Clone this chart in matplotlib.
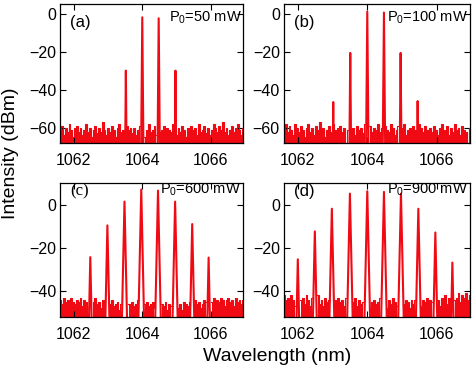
import numpy as np
import matplotlib
matplotlib.use('Agg')
import matplotlib.pyplot as plt

plt.rcParams['font.family'] = ['Liberation Sans', 'DejaVu Sans']
plt.rcParams['mathtext.fontset'] = 'custom'
plt.rcParams['mathtext.rm'] = 'Liberation Sans'
plt.rcParams['mathtext.it'] = 'Liberation Sans:italic'

RED = '#f00a14'
XMIN, XMAX = 1061.6, 1066.95

# peak positions (nm) and peak levels (dBm)
a_peak_wl = [1063.52, 1064.00, 1064.48, 1064.97]
a_peak_db = [-30, -2, -2.5, -30]
b_peak_wl = [1063.02, 1063.51, 1064.00, 1064.48, 1064.96, 1065.45]
b_peak_db = [-46.5, -20.7, 1.0, 0.5, -20.7, -46]
c_peak_wl = [1062.48, 1062.98, 1063.48, 1063.97, 1064.46, 1064.96, 1065.46, 1065.94]
c_peak_db = [-24.3, -9.6, 1.4, 7.0, 6.5, 1.4, -9.0, -24.5]
d_peak_wl = [1062.00, 1062.49, 1062.98, 1063.50, 1064.00, 1064.48, 1064.97,
             1065.47, 1065.96, 1066.45]
d_peak_db = [-25.3, -12.4, -1.9, 5.1, 6.2, 5.9, 5.1, -1.9, -12.9, -26.8]

# noise floor tops (dBm), sampled evenly across the window
a_noise = [-61, -59, -64, -60, -62, -58, -61, -65, -60, -59,
           -62, -60, -64, -61, -58, -62, -60, -65, -61, -59,
           -63, -60, -62, -57, -61, -64, -60, -62, -59, -61,
           -65, -60, -58, -62, -61, -64, -59, -61, -60, -63,
           -60, -64, -61, -59, -62, -60, -65, -61, -58, -62,
           -61, -59, -64, -60, -62, -61, -59, -64, -60, -61,
           -62, -58, -61, -64, -60, -62, -59, -61, -65, -60,
           -62, -59, -61, -60, -64, -58, -62, -61, -59, -63,
           -60, -64, -61, -58, -60, -62, -59, -61, -57, -62,
           -60, -64, -61, -59, -62, -60, -58, -61, -64, -60]
b_noise = [-60, -58, -62, -59, -61, -64, -58, -60, -62, -59,
           -61, -65, -60, -58, -62, -60, -64, -59, -61, -57,
           -62, -60, -65, -61, -59, -62, -58, -61, -64, -60,
           -59, -62, -60, -68, -61, -58, -62, -60, -64, -59,
           -61, -60, -63, -58, -61, -64, -59, -62, -60, -61,
           -58, -62, -60, -64, -59, -61, -62, -58, -60, -64,
           -61, -59, -62, -60, -58, -64, -61, -60, -62, -59,
           -61, -64, -58, -60, -62, -59, -61, -68, -60, -62,
           -59, -61, -64, -60, -58, -62, -61, -59, -64, -60,
           -62, -58, -61, -60, -64, -59, -61, -62, -68, -60]
c_noise = [-44, -46, -43, -45, -44, -48, -43, -45, -46, -44,
           -45, -43, -47, -44, -45, -48, -44, -46, -45, -43,
           -46, -45, -48, -44, -46, -49, -45, -46, -44, -47,
           -46, -45, -49, -46, -44, -47, -45, -46, -49, -45,
           -47, -46, -44, -48, -45, -49, -46, -45, -47, -46,
           -45, -48, -46, -49, -44, -46, -47, -45, -49, -46,
           -47, -45, -46, -44, -48, -46, -49, -45, -46, -47,
           -45, -48, -46, -44, -46, -45, -48, -46, -44, -45,
           -46, -44, -45, -43, -47, -44, -45, -43, -44, -47,
           -44, -43, -45, -44, -47, -43, -45, -44, -46, -44]
d_noise = [-42, -44, -43, -46, -42, -44, -47, -43, -45, -44,
           -43, -46, -42, -44, -47, -43, -45, -44, -42, -46,
           -44, -47, -43, -45, -44, -42, -47, -44, -45, -43,
           -45, -44, -47, -43, -45, -48, -44, -45, -43, -47,
           -44, -46, -45, -43, -47, -44, -48, -45, -44, -46,
           -45, -43, -47, -44, -45, -48, -44, -46, -43, -45,
           -47, -44, -45, -43, -46, -44, -45, -48, -44, -46,
           -44, -45, -43, -47, -44, -45, -43, -46, -44, -45,
           -43, -46, -44, -47, -43, -44, -42, -46, -43, -44,
           -42, -44, -43, -41, -45, -42, -43, -41, -44, -42]

panel_tags = ['(a)', '(b)', '(c)', '(d)']
powers = ['50', '100', '600', '900']
xticks = [1062, 1064, 1066]


def draw(ax, noise, wl, db, ylo, yhi, k):
    x = np.linspace(XMIN, XMAX, len(noise))
    y = np.array(noise, dtype=float)
    for c, h in zip(wl, db):
        w = k * (h - ylo)
        y[np.abs(x - c) < w] = np.nan
    ax.fill_between(x, ylo - 10, y, color=RED, lw=0, step='mid')
    ax.plot(x, y, color=RED, lw=0.8, drawstyle='steps-mid')
    for c, h in zip(wl, db):
        w = k * (h - ylo)
        ax.plot([c - w, c, c + w], [ylo - 1, h, ylo - 1], color=RED, lw=1.5)
    ax.set_xlim(XMIN, XMAX)
    ax.set_ylim(ylo, yhi)


fig = plt.figure(figsize=(4.74, 3.69), dpi=100)
boxes = [[0.127, 0.6125, 0.386, 0.3767],
         [0.599, 0.6125, 0.392, 0.3767],
         [0.127, 0.141, 0.386, 0.363],
         [0.599, 0.141, 0.392, 0.363]]
axes = [fig.add_axes(b) for b in boxes]

draw(axes[0], a_noise, a_peak_wl, a_peak_db, -68, 5, 0.0005)
draw(axes[1], b_noise, b_peak_wl, b_peak_db, -68, 5, 0.0005)
draw(axes[2], c_noise, c_peak_wl, c_peak_db, -52, 10, 0.0014)
draw(axes[3], d_noise, d_peak_wl, d_peak_db, -52, 10, 0.0014)

for i, ax in enumerate(axes):
    ax.set_xticks(xticks)
    if i < 2:
        ax.set_yticks([0, -20, -40, -60])
    else:
        ax.set_yticks([0, -20, -40])
    ax.tick_params(direction='in', top=True, right=True, length=4, width=0.8,
                   labelsize=11.5)
    ax.tick_params(axis='x', pad=7)
    ax.tick_params(axis='y', pad=3)
    for s in ax.spines.values():
        s.set_linewidth(0.9)
    ty = 0.87 if i < 2 else 0.94
    py = 0.9 if i < 2 else 0.95
    fam = 'Liberation Serif' if i == 2 else 'Liberation Sans'
    ax.text(0.055, ty, panel_tags[i], transform=ax.transAxes, fontsize=12,
            family=fam, va='center', ha='left')
    ax.text(0.99, py, r'P$_0$=' + powers[i] + ' mW', transform=ax.transAxes,
            fontsize=10.5, va='center', ha='right')

fig.text(0.585, 0.033, 'Wavelength (nm)', fontsize=14, ha='center', va='center')
fig.text(0.022, 0.584, 'Intensity (dBm)', fontsize=14, ha='center', va='center',
         rotation=90)

fig.savefig('out.png', dpi=100)
